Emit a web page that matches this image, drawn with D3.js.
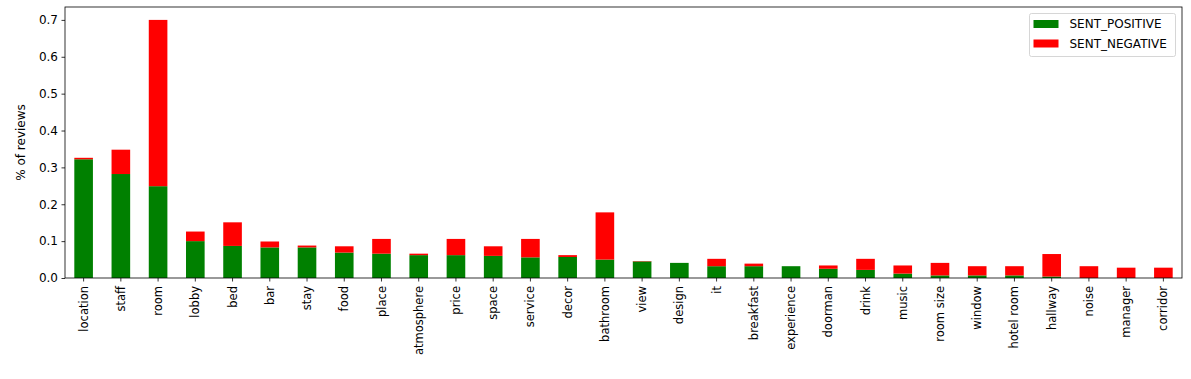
<!DOCTYPE html>
<html>
<head>
<meta charset="utf-8">
<script src="https://cdn.jsdelivr.net/npm/d3@7"></script>
<style>
  body { margin: 0; background: #fff; }
  svg text { font-family: "DejaVu Sans", sans-serif; fill: #000; }
</style>
</head>
<body>
<svg id="chart"></svg>
<script>
const categories = ["location", "staff", "room", "lobby", "bed", "bar", "stay", "food", "place",
  "atmosphere", "price", "space", "service", "decor", "bathroom", "view", "design", "it",
  "breakfast", "experience", "doorman", "drink", "music", "room size", "window", "hotel room",
  "hallway", "noise", "manager", "corridor"];
const positive = [0.322, 0.282, 0.249, 0.100, 0.087, 0.083, 0.083, 0.069, 0.066,
  0.062, 0.062, 0.060, 0.056, 0.057, 0.050, 0.045, 0.041, 0.032,
  0.032, 0.032, 0.025, 0.022, 0.012, 0.007, 0.007, 0.007,
  0.004, 0.000, 0.000, 0.000];
const negative = [0.004, 0.066, 0.451, 0.026, 0.064, 0.016, 0.005, 0.017, 0.040,
  0.004, 0.044, 0.026, 0.050, 0.005, 0.128, 0.001, 0.000, 0.020,
  0.007, 0.000, 0.009, 0.030, 0.022, 0.034, 0.025, 0.025,
  0.061, 0.032, 0.028, 0.028];
const seriesNames = ["SENT_POSITIVE", "SENT_NEGATIVE"];
const seriesColors = ["green", "red"];
const yTicks = [0, 0.1, 0.2, 0.3, 0.4, 0.5, 0.6, 0.7];

const W = 1191, H = 379;
const m = {left: 65, right: 9, top: 7, bottom: 101};
const iw = W - m.left - m.right, ih = H - m.top - m.bottom;

const svg = d3.select("#chart").attr("width", W).attr("height", H);
const g = svg.append("g").attr("transform", `translate(${m.left},${m.top})`);

const rows = categories.map((c, i) => ({cat: c, SENT_POSITIVE: positive[i], SENT_NEGATIVE: negative[i]}));
const stacked = d3.stack().keys(seriesNames)(rows);

const x = d3.scaleBand().domain(categories).range([0, iw]).paddingInner(0.5).paddingOuter(0.25);
const maxTotal = d3.max(rows, d => d.SENT_POSITIVE + d.SENT_NEGATIVE);
const y = d3.scaleLinear().domain([0, maxTotal * 1.05]).range([ih, 0]);

g.selectAll("g.series")
  .data(stacked).enter().append("g")
    .attr("class", "series")
    .attr("fill", (d, i) => seriesColors[i])
  .selectAll("rect")
  .data(d => d).enter().append("rect")
    .attr("x", d => x(d.data.cat))
    .attr("width", x.bandwidth())
    .attr("y", d => y(d[1]))
    .attr("height", d => y(d[0]) - y(d[1]));

// axes
const xAxis = g.append("g").attr("transform", `translate(0,${ih})`)
  .call(d3.axisBottom(x).tickSize(3.5).tickPadding(3));
xAxis.select(".domain").remove();
xAxis.selectAll("text")
  .attr("transform", "rotate(-90)")
  .attr("text-anchor", "end")
  .attr("dy", "0.35em")
  .attr("x", -8)
  .attr("y", 0)
  .style("font-size", "11.5px");

const yAxis = g.append("g")
  .call(d3.axisLeft(y).tickValues(yTicks).tickFormat(d3.format(".1f")).tickSize(3.5).tickPadding(3.5));
yAxis.select(".domain").remove();
yAxis.selectAll("text").style("font-size", "12px");
g.selectAll(".tick line").attr("stroke", "#000").attr("stroke-width", 0.8);

g.append("rect")
  .attr("width", iw).attr("height", ih)
  .attr("fill", "none").attr("stroke", "#000").attr("stroke-width", 0.8);

svg.append("text")
  .attr("transform", `translate(21,${m.top + ih / 2}) rotate(-90)`)
  .attr("text-anchor", "middle")
  .attr("dy", "0.35em")
  .style("font-size", "12px")
  .text("% of reviews");

// legend
const lg = svg.append("g").attr("transform", `translate(1029.5,13.5)`);
lg.append("rect")
  .attr("width", 146).attr("height", 43).attr("rx", 2)
  .attr("fill", "#fff").attr("fill-opacity", 0.8)
  .attr("stroke", "#ccc").attr("stroke-width", 0.8);
seriesNames.forEach((n, i) => {
  const row = lg.append("g").attr("transform", `translate(4,${6.5 + i * 19.5})`);
  row.append("rect").attr("width", 25).attr("height", 8).attr("fill", seriesColors[i]);
  row.append("text").attr("x", 36).attr("y", 4).attr("dy", "0.35em")
    .style("font-size", "12px").text(n);
});
</script>
</body>
</html>
